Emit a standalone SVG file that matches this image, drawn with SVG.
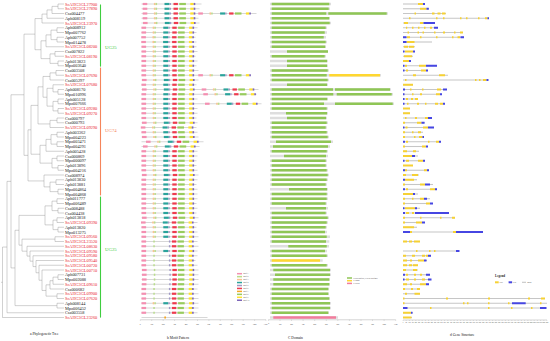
<svg xmlns="http://www.w3.org/2000/svg" width="550" height="341" viewBox="0 0 550 341">
<style>
text{font-family:"Liberation Serif","Times New Roman",serif}
.t{font-size:4.3px;fill:#1a1a1a}
.r{fill:#e8252d}
.tr{fill:none;stroke:#8c8c8c;stroke-width:.4}
.ml{stroke:#cdcdcd;stroke-width:.8}
.dl{stroke:#dedede;stroke-width:2.6}
.dg{stroke:#8fc655;stroke-width:2.6}
.dy{stroke:#ffd730;stroke-width:2.6}
.dp{stroke:#f27c9c;stroke-width:2.6}
.gl{stroke:#c6c6c6;stroke-width:1.1}
.gc{stroke:#f6d134;stroke-width:2}
.gu{stroke:#4646e2;stroke-width:2}
.ax{fill:none;stroke:#555;stroke-width:.25}
.al{font-size:1.8px;fill:#444;text-anchor:middle}
.ga{font-size:1.1px;fill:#444;text-anchor:middle}
.cap{font-size:3.6px;fill:#111}
.lg{font-size:1.7px;fill:#333}
.ug{font-size:4.8px}
</style>
<defs>
<g id="mA" stroke-width="2.2">
<path stroke="#f48fb1" d="M0 0h4.6"/><path stroke="#f9c48f" d="M11.2 0h1.6"/><path stroke="#b9dd8c" d="M12.9 0h1.5"/><path stroke="#2aa39b" d="M21.8 0h5"/><path stroke="#a09ac6" d="M26.9 0h1.4"/><path stroke="#ee3b4e" d="M30.8 0h4.4"/><path stroke="#98cc5e" d="M36.6 0h6.6"/><path stroke="#ffe12e" d="M47.6 0h3.4"/><path stroke="#7d66b8" d="M51 0h1.6"/>
</g>
<g id="mB" stroke-width="2.2">
<path stroke="#f48fb1" d="M0 0h4.6"/><path stroke="#b9dd8c" d="M11.8 0h1.5"/><path stroke="#a09ac6" d="M27.4 0h1.4"/><path stroke="#ee3b4e" d="M30.4 0h4.4"/><path stroke="#98cc5e" d="M36 0h6.4"/><path stroke="#ffe12e" d="M47.2 0h3.4"/><path stroke="#7d66b8" d="M50.6 0h1.6"/>
</g>
</defs>
<rect width="550" height="341" fill="#fff"/>
<g id="connectors">
<path class="tr" d="M64 4H58V8.75H64M58 6.38H52V13.5H64M52 9.94H47V18.25H64M47 14.09H42V23H64M64 27.75H57V32.5H64M64 37.25H57V42H64M57 30.13H51V39.63H57M51 34.88H46V46.75H64M64 51.5H55V56.25H64M64 61H58V65.75H64M55 53.88H50V63.38H58M46 40.81H41V58.63H50M42 18.55H35V49.72H41"/>
<path class="tr" d="M64 70.5H56V75.25H64M56 72.88H50V80H64M64 89.5H58V94.25H64M64 84.75H53V91.88H58M64 99H58V103.75H64M64 108.5H58V113.25H64M58 101.38H53V110.88H58M53 88.31H47V106.13H53M50 76.44H43V97.22H47M64 118H57V122.75H64M57 120.38H50V127.5H64M43 86.83H38V123.94H50M64 132.25H57V137H64M64 141.75H57V146.5H64M57 134.63H51V144.13H57M51 139.38H46V151.25H64M64 156H57V160.75H64M64 165.5H58V170.25H64M57 158.38H52V167.88H58M46 145.31H40V163.13H52M38 105.38H31V154.22H40M64 179.75H56V184.5H64M64 189.25H58V194H64M56 182.13H50V191.63H58M64 175H44V186.88H50M31 129.8H28V180.94H44M35 34.13H24V155.37H28"/>
<path class="tr" d="M64 198.75H57V203.5H64M64 208.25H58V213H64M57 201.13H52V210.63H58M64 217.75H57V222.5H64M64 227.25H58V232H64M57 220.13H53V229.63H58M52 205.88H45V224.88H53M64 274.75H58V279.5H64M58 277.13H53V284.25H64M53 280.69H50V289H64M64 293.75H57V298.5H64M50 284.84H46V296.13H57M64 270H42V290.48H46M64 265.25H39V280.24H42M64 260.5H36V272.75H39M64 255.75H33V266.6H36M64 251H30V261.2H33M64 246.25H27V256.1H30M64 236.75H55V241.5H64M55 239.13H22V251.2H27M45 215.38H19V245.16H22M64 303.25H57V308H64M19 230.27H15V305.63H57M24 94.75H11V267.95H15M11 181.35H7V312.75H64M7 247.05H2.5V317.5H64M2.5 282.3H1"/>
</g>
<g id="groups">
<path stroke="#3fcd3f" stroke-width="1.1" d="M100.5 4.5V66.6"/>
<path stroke="#f5855a" stroke-width="1.1" d="M100.5 67.6V195.4"/>
<path stroke="#3fcd3f" stroke-width="1.1" d="M100.5 196.6V317.6"/>
<text class="ug" x="105" y="49" fill="#3fcd3f">UG25</text>
<text class="ug" x="105" y="132" fill="#f5855a">UG74</text>
<text class="ug" x="105" y="251" fill="#3fcd3f">UG25</text>
</g>
<g id="rows">
<g id="r1" transform="translate(0 4)"><text class="t r" x="65" y="1.5">ScAHG3GL27900</text><path class="ml" d="M141.5 0h60"/><use href="#mA" x="142.7"/><path class="dl" d="M270 0h61"/><path class="dg" d="M271.7 0h57.6"/><path class="gl" d="M403 0h22"/><path class="gc" d="M418 0h5"/><path class="gu" d="M423 0h2"/></g>
<g id="r2" transform="translate(0 8.75)"><text class="t r" x="65" y="1.5">ScAHG3GL27890</text><path class="ml" d="M141.5 0h58"/><use href="#mA" x="142.7"/><path class="dl" d="M270 0h60"/><path class="dg" d="M271.7 0h57"/><path class="gl" d="M403 0h26"/><path class="gc" d="M420 0h6.5"/><path class="gu" d="M426.5 0h2.3"/></g>
<g id="r3" transform="translate(0 13.5)"><text class="t" x="65" y="1.5">Csa004477</text><path class="ml" d="M141.5 0h115"/><use href="#mA" x="142.7"/><use href="#mA" x="198.3"/><path class="dl" d="M270 0h118"/><path class="dg" d="M271.7 0h54.6M328.3 0h58.4"/><path class="gl" d="M403 0h43"/><path class="gc" d="M414.5 0h1.5M432 0h2.5M437.5 0h3M442 0h3.5"/></g>
<g id="r4" transform="translate(0 18.25)"><text class="t" x="65" y="1.5">Aph008119</text><path class="ml" d="M141.5 0h57"/><use href="#mA" x="142.7"/><path class="dl" d="M270 0h60"/><path class="dg" d="M271.7 0h57.5"/><path class="gl" d="M403 0h86"/><path class="gc" d="M409 0h1.5M436 0h1.5M443 0h1.5M460 0h1.5M466 0h1.5M478 0h1.5M485 0h2.5"/><path class="gu" d="M487.5 0h1.5"/></g>
<g id="r5" transform="translate(0 23)"><text class="t r" x="65" y="1.5">ScAHG3GL23970</text><path class="ml" d="M141.5 0h58"/><use href="#mA" x="143"/><path class="dl" d="M270 0h61"/><path class="dg" d="M271.7 0h58"/><path class="gl" d="M403 0h32"/><path class="gc" d="M404 0h4M420 0h3.5"/><path class="gu" d="M423.5 0h11.5"/></g>
<g id="r6" transform="translate(0 27.75)"><text class="t" x="65" y="1.5">Aph008912</text><path class="ml" d="M141.5 0h56"/><use href="#mA" x="141.5"/><path class="dl" d="M270 0h57"/><path class="dg" d="M271.7 0h54"/><path class="gl" d="M403 0h35"/><path class="gc" d="M406 0h1.2M412 0h1.5M418 0h1.5M424 0h1.5M430 0h2"/><path class="gu" d="M434 0h4"/></g>
<g id="r7" transform="translate(0 32.5)"><text class="t" x="65" y="1.5">Mpo007762</text><path class="ml" d="M141.5 0h55"/><use href="#mA" x="141.5"/><path class="dl" d="M270 0h57"/><path class="dg" d="M271.7 0h53"/><path class="gl" d="M403 0h60"/><path class="gc" d="M407.5 0h1.5M417.5 0h1.5M422.5 0h1.5M434 0h1.5M443 0h2M454 0h1.5M460 0h3"/></g>
<g id="r8" transform="translate(0 37.25)"><text class="t" x="65" y="1.5">Aph007752</text><path class="ml" d="M141.5 0h54"/><use href="#mA" x="141.3"/><path class="dl" d="M270 0h56"/><path class="dg" d="M271.7 0h52"/><path class="gl" d="M403 0h61"/><path class="gc" d="M407 0h3M420 0h1.5M436 0h1.5M452 0h1.5M457.5 0h2.5"/><path class="gu" d="M403 0h3.5M460.5 0h3.5"/></g>
<g id="r9" transform="translate(0 42)"><text class="t" x="65" y="1.5">Mpo014478</text><path class="ml" d="M141.5 0h55"/><use href="#mA" x="141.3"/><path class="dl" d="M270 0h57"/><path class="dg" d="M271.7 0h54"/><path class="gl" d="M403 0h29"/><path class="gc" d="M406.5 0h8"/><path class="gu" d="M403 0h3.5"/></g>
<g id="r10" transform="translate(0 46.75)"><text class="t r" x="65" y="1.5">ScAHG3GL08200</text><path class="ml" d="M141.5 0h55"/><use href="#mA" x="141.5"/><path class="dl" d="M270 0h56"/><path class="dg" d="M271.7 0h53.5"/><path class="gl" d="M403 0h12"/><path class="gc" d="M404 0h4M409 0h5"/></g>
<g id="r11" transform="translate(0 51.5)"><text class="t" x="65" y="1.5">Csa007822</text><path class="ml" d="M141.5 0h56"/><use href="#mA" x="141.5"/><path class="dl" d="M270 0h58"/><path class="dg" d="M287 0h41"/><path class="gl" d="M403 0h12"/><path class="gc" d="M405 0h8"/><path class="gu" d="M403 0h1.5M413 0h2"/></g>
<g id="r12" transform="translate(0 56.25)"><text class="t r" x="65" y="1.5">ScAHG3GL08190</text><path class="ml" d="M141.5 0h54"/><use href="#mA" x="141.5"/><path class="dl" d="M270 0h56"/><path class="dg" d="M271.7 0h53"/><path class="gl" d="M403 0h10"/><path class="gc" d="M404 0h8"/></g>
<g id="r13" transform="translate(0 61)"><text class="t" x="65" y="1.5">Aph013823</text><path class="ml" d="M141.5 0h56"/><use href="#mA" x="141.5"/><path class="dl" d="M270 0h58"/><path class="dg" d="M287 0h40"/><path class="gl" d="M403 0h8"/><path class="gc" d="M403 0h6"/><path class="gu" d="M409 0h2"/></g>
<g id="r14" transform="translate(0 65.75)"><text class="t" x="65" y="1.5">Mpo003640</text><path class="ml" d="M141.5 0h55"/><use href="#mA" x="141.5"/><path class="dl" d="M270 0h58"/><path class="dg" d="M287 0h40"/><path class="gl" d="M403 0h34"/><path class="gc" d="M405 0h2M419 0h7"/><path class="gu" d="M403 0h1.5M426 0h11"/></g>
<g id="r15" transform="translate(0 70.5)"><text class="t" x="65" y="1.5">Csa003508</text><path class="ml" d="M141.5 0h57"/><use href="#mA" x="141.5"/><path class="dl" d="M270 0h59"/><path class="dg" d="M271.7 0h56"/><path class="gl" d="M403 0h25"/><path class="gc" d="M406 0h2M421 0h5"/><path class="gu" d="M403 0h1.5M426 0h2"/></g>
<g id="r16" transform="translate(0 75.25)"><text class="t r" x="65" y="1.5">ScAHG3GL07690</text><path class="ml" d="M141.5 0h108"/><use href="#mA" x="141.5"/><use href="#mA" x="198.3"/><path class="dl" d="M270 0h111"/><path class="dg" d="M271.7 0h55"/><path class="dy" d="M329.3 0h50.7"/><path class="gl" d="M403 0h45"/><path class="gc" d="M413 0h3M439 0h6"/></g>
<g id="r17" transform="translate(0 80)"><text class="t" x="65" y="1.5">Csa005297</text><path class="ml" d="M141.5 0h57"/><use href="#mA" x="142"/><path class="dl" d="M270 0h59"/><path class="dg" d="M271.7 0h56"/><path class="gl" d="M403 0h85"/><path class="gc" d="M405 0h1.5M475 0h1.5M479 0h1.5M483 0h3.5"/><path class="gu" d="M486.5 0h2"/></g>
<g id="r18" transform="translate(0 84.75)"><text class="t r" x="65" y="1.5">ScAHG3GL07680</text><path class="ml" d="M141.5 0h55"/><use href="#mA" x="141.5"/><path class="dl" d="M270 0h58"/><path class="dg" d="M287 0h40"/><path class="gl" d="M403 0h10"/><path class="gc" d="M403 0h10"/></g>
<g id="r19" transform="translate(0 89.5)"><text class="t" x="65" y="1.5">Aph008170</text><path class="ml" d="M141.5 0h117"/><use href="#mA" x="142"/><use href="#mA" x="201.7"/><path class="dl" d="M270 0h121"/><path class="dg" d="M271.7 0h61.3M335 0h55"/><path class="gl" d="M403 0h44"/><path class="gc" d="M410 0h1.5M422 0h1.5M437 0h4"/><path class="gu" d="M403 0h2M443 0h4"/></g>
<g id="r20" transform="translate(0 94.25)"><text class="t" x="65" y="1.5">Mpo010996</text><path class="ml" d="M141.5 0h115"/><use href="#mA" x="141.5"/><use href="#mA" x="203.3"/><path class="dl" d="M270 0h123"/><path class="dg" d="M271.7 0h61.6M336.7 0h55"/><path class="gl" d="M403 0h39"/><path class="gc" d="M412 0h1.5M420 0h2M436 0h4"/><path class="gu" d="M403 0h1.5M440 0h2"/></g>
<g id="r21" transform="translate(0 99)"><text class="t" x="65" y="1.5">Aph005128</text><path class="ml" d="M141.5 0h56"/><use href="#mA" x="141.5"/><path class="dl" d="M270 0h58"/><path class="dg" d="M271.7 0h55.5"/><path class="gl" d="M403 0h15"/><path class="gc" d="M406 0h2M411 0h2M415 0h3"/><path class="gu" d="M403 0h1.5"/></g>
<g id="r22" transform="translate(0 103.75)"><text class="t" x="65" y="1.5">Mpo007666</text><path class="ml" d="M141.5 0h120"/><use href="#mA" x="141.5"/><use href="#mA" x="205"/><path class="dl" d="M270 0h124"/><path class="dg" d="M271.7 0h52.3M335 0h57.7"/><path class="gl" d="M403 0h42"/><path class="gc" d="M407 0h1.5M417 0h2M425 0h1.5M435 0h3M440 0h3"/><path class="gu" d="M403 0h1.5M443 0h2"/></g>
<g id="r23" transform="translate(0 108.5)"><text class="t r" x="65" y="1.5">ScAHG3GL09280</text><path class="ml" d="M141.5 0h56"/><use href="#mA" x="141.5"/><path class="dl" d="M270 0h58"/><path class="dg" d="M271.7 0h55"/><path class="gl" d="M403 0h7"/><path class="gc" d="M403 0h7"/></g>
<g id="r24" transform="translate(0 113.25)"><text class="t r" x="65" y="1.5">ScAHG3GL09270</text><path class="ml" d="M141.5 0h56"/><use href="#mA" x="141.5"/><path class="dl" d="M270 0h58"/><path class="dg" d="M286 0h41"/><path class="gl" d="M403 0h7"/><path class="gc" d="M403 0h7"/></g>
<g id="r25" transform="translate(0 118)"><text class="t" x="65" y="1.5">Csa000797</text><path class="ml" d="M141.5 0h55"/><use href="#mA" x="141.5"/><path class="dl" d="M270 0h57"/><path class="dg" d="M287 0h39"/><path class="gl" d="M403 0h29"/><path class="gc" d="M405 0h1.5M415 0h2M425 0h3"/><path class="gu" d="M428 0h4"/></g>
<g id="r26" transform="translate(0 122.75)"><text class="t" x="65" y="1.5">Csa000793</text><path class="ml" d="M141.5 0h56"/><use href="#mA" x="142"/><path class="dl" d="M270 0h58"/><path class="dg" d="M271.7 0h55"/><path class="gl" d="M403 0h22"/><path class="gc" d="M403 0h2M417 0h4.5"/><path class="gu" d="M421.5 0h3"/></g>
<g id="r27" transform="translate(0 127.5)"><text class="t r" x="65" y="1.5">ScAHG3GL09290</text><path class="ml" d="M141.5 0h55"/><use href="#mA" x="140.8"/><path class="dl" d="M270 0h57"/><path class="dg" d="M271.7 0h54"/><path class="gl" d="M403 0h31"/><path class="gc" d="M405.5 0h2M423 0h5"/><path class="gu" d="M403 0h1.5M428 0h6"/></g>
<g id="r28" transform="translate(0 132.25)"><text class="t" x="65" y="1.5">Aph003362</text><path class="ml" d="M141.5 0h56"/><use href="#mA" x="141.5"/><path class="dl" d="M270 0h58"/><path class="dg" d="M271.7 0h55"/><path class="gl" d="M403 0h20"/><path class="gc" d="M403 0h2M412 0h1.5M418 0h3"/></g>
<g id="r29" transform="translate(0 137)"><text class="t" x="65" y="1.5">Mpo004223</text><path class="ml" d="M141.5 0h57"/><use href="#mA" x="142"/><path class="dl" d="M270 0h59"/><path class="dg" d="M271.7 0h56"/><path class="gl" d="M403 0h21"/><path class="gc" d="M403 0h2M414 0h1.5M419 0h3.5"/><path class="gu" d="M422.5 0h1.5"/></g>
<g id="r30" transform="translate(0 141.75)"><text class="t" x="65" y="1.5">Mpo003471</text><path class="ml" d="M141.5 0h62"/><use href="#mA" x="146"/><path class="dl" d="M270 0h63"/><path class="dg" d="M276 0h55"/><path class="gl" d="M403 0h38"/><path class="gc" d="M406 0h2M428 0h1.5M436 0h3"/><path class="gu" d="M403 0h2M439 0h2"/></g>
<g id="r31" transform="translate(0 146.5)"><text class="t" x="65" y="1.5">Mpo004291</text><path class="ml" d="M141.5 0h58"/><use href="#mA" x="143"/><path class="dl" d="M270 0h60"/><path class="dg" d="M273 0h55"/><path class="gl" d="M403 0h25"/><path class="gc" d="M403 0h2M422 0h4"/><path class="gu" d="M426 0h2"/></g>
<g id="r32" transform="translate(0 151.25)"><text class="t" x="65" y="1.5">Aph005428</text><path class="ml" d="M141.5 0h56"/><use href="#mA" x="141.5"/><path class="dl" d="M270 0h58"/><path class="dg" d="M271.7 0h55"/><path class="gl" d="M403 0h16"/><path class="gc" d="M403 0h4M413 0h3"/></g>
<g id="r33" transform="translate(0 156)"><text class="t" x="65" y="1.5">Csa000869</text><path class="ml" d="M141.5 0h56"/><use href="#mA" x="141.5"/><path class="dl" d="M270 0h58"/><path class="dg" d="M284 0h42"/><path class="gl" d="M403 0h15"/><path class="gc" d="M403 0h9"/><path class="gu" d="M412 0h3"/></g>
<g id="r34" transform="translate(0 160.75)"><text class="t" x="65" y="1.5">Mpo000097</text><path class="ml" d="M141.5 0h55"/><use href="#mA" x="141.5"/><path class="dl" d="M270 0h57"/><path class="dg" d="M271.7 0h54"/><path class="gl" d="M403 0h22"/><path class="gc" d="M406 0h3M418 0h5"/><path class="gu" d="M403 0h1.5M423 0h2"/></g>
<g id="r35" transform="translate(0 165.5)"><text class="t" x="65" y="1.5">Aph013896</text><path class="ml" d="M141.5 0h55"/><use href="#mA" x="141.5"/><path class="dl" d="M270 0h57"/><path class="dg" d="M271.7 0h54"/><path class="gl" d="M403 0h10"/><path class="gc" d="M403 0h10"/></g>
<g id="r36" transform="translate(0 170.25)"><text class="t" x="65" y="1.5">Mpo004216</text><path class="ml" d="M141.5 0h56"/><use href="#mA" x="141.5"/><path class="dl" d="M270 0h58"/><path class="dg" d="M271.7 0h55"/><path class="gl" d="M403 0h26"/><path class="gc" d="M405 0h2M424 0h3"/><path class="gu" d="M403 0h2M427 0h2"/></g>
<g id="r37" transform="translate(0 175)"><text class="t" x="65" y="1.5">Csa008974</text><path class="ml" d="M141.5 0h57"/><use href="#mA" x="142"/><path class="dl" d="M270 0h59"/><path class="dg" d="M271.7 0h56"/><path class="gl" d="M403 0h16"/><path class="gc" d="M403 0h3M412 0h6"/></g>
<g id="r38" transform="translate(0 179.75)"><text class="t" x="65" y="1.5">Aph013830</text><path class="ml" d="M141.5 0h56"/><use href="#mA" x="141.5"/><path class="dl" d="M270 0h58"/><path class="dg" d="M271.7 0h55"/><path class="gl" d="M403 0h14"/><path class="gc" d="M405 0h9"/><path class="gu" d="M403 0h2"/></g>
<g id="r39" transform="translate(0 184.5)"><text class="t" x="65" y="1.5">Aph013881</text><path class="ml" d="M141.5 0h55"/><use href="#mA" x="141.5"/><path class="dl" d="M270 0h57"/><path class="dg" d="M271.7 0h54"/><path class="gl" d="M403 0h30"/><path class="gc" d="M403 0h2M420 0h5"/><path class="gu" d="M425 0h5"/></g>
<g id="r40" transform="translate(0 189.25)"><text class="t" x="65" y="1.5">Mpo004864</text><path class="ml" d="M141.5 0h56"/><use href="#mA" x="141.5"/><path class="dl" d="M270 0h58"/><path class="dg" d="M289 0h38"/><path class="gl" d="M403 0h34"/><path class="gc" d="M406 0h2M430 0h5"/><path class="gu" d="M403 0h2M435 0h2"/></g>
<g id="r41" transform="translate(0 194)"><text class="t" x="65" y="1.5">Mpo004868</text><path class="ml" d="M141.5 0h56"/><use href="#mA" x="141.5"/><path class="dl" d="M270 0h58"/><path class="dg" d="M271.7 0h55"/><path class="gl" d="M403 0h15"/><path class="gc" d="M403 0h10"/><path class="gu" d="M413 0h2"/></g>
<g id="r42" transform="translate(0 198.75)"><text class="t" x="65" y="1.5">Aph011777</text><path class="ml" d="M141.5 0h56"/><use href="#mA" x="141.5"/><path class="dl" d="M270 0h58"/><path class="dg" d="M271.7 0h55"/><path class="gl" d="M403 0h27"/><path class="gc" d="M403 0h2M412 0h1.5M420 0h4"/><path class="gu" d="M424 0h3"/></g>
<g id="r43" transform="translate(0 203.5)"><text class="t" x="65" y="1.5">Mpo006489</text><path class="ml" d="M141.5 0h55"/><use href="#mA" x="141.5"/><path class="dl" d="M270 0h57"/><path class="dg" d="M271.7 0h54"/><path class="gl" d="M403 0h30"/><path class="gc" d="M403 0h2M426 0h4"/><path class="gu" d="M430 0h3"/></g>
<g id="r44" transform="translate(0 208.25)"><text class="t" x="65" y="1.5">Csa008488</text><path class="ml" d="M141.5 0h56"/><use href="#mA" x="141.5"/><path class="dl" d="M270 0h58"/><path class="dg" d="M286 0h40"/><path class="gl" d="M403 0h17"/><path class="gc" d="M405 0h10"/><path class="gu" d="M403 0h1.5M415 0h2"/></g>
<g id="r45" transform="translate(0 213)"><text class="t" x="65" y="1.5">Csa004438</text><path class="ml" d="M141.5 0h55"/><use href="#mA" x="141.5"/><path class="dl" d="M270 0h57"/><path class="dg" d="M271.7 0h54"/><path class="gl" d="M403 0h46"/><path class="gc" d="M406 0h3M412 0h2"/><path class="gu" d="M403 0h2M415 0h34"/></g>
<g id="r46" transform="translate(0 217.75)"><text class="t" x="65" y="1.5">Aph013818</text><path class="ml" d="M141.5 0h57"/><use href="#mA" x="142"/><path class="dl" d="M270 0h59"/><path class="dg" d="M271.7 0h56"/><path class="gl" d="M403 0h52"/><path class="gc" d="M403 0h2M420 0h1.5M440 0h1.5M452 0h3"/></g>
<g id="r47" transform="translate(0 222.5)"><text class="t r" x="65" y="1.5">ScAHG3GL09390</text><path class="ml" d="M141.5 0h56"/><use href="#mA" x="141"/><path class="dl" d="M270 0h58"/><path class="dg" d="M271.7 0h55"/><path class="gl" d="M403 0h22"/><path class="gc" d="M403 0h2M416 0h6"/><path class="gu" d="M422 0h3"/></g>
<g id="r48" transform="translate(0 227.25)"><text class="t" x="65" y="1.5">Aph013820</text><path class="ml" d="M141.5 0h55"/><use href="#mA" x="141.5"/><path class="dl" d="M270 0h57"/><path class="dg" d="M271.7 0h54"/><path class="gl" d="M403 0h14"/><path class="gc" d="M403 0h11"/></g>
<g id="r49" transform="translate(0 232)"><text class="t" x="65" y="1.5">Mpo013275</text><path class="ml" d="M141.5 0h56"/><use href="#mA" x="141.5"/><path class="dl" d="M270 0h57"/><path class="dg" d="M271.7 0h53.3"/><path class="gl" d="M403 0h80"/><path class="gc" d="M410 0h2M453 0h3"/><path class="gu" d="M403 0h7M456 0h27"/></g>
<g id="r50" transform="translate(0 236.75)"><text class="t r" x="65" y="1.5">ScAHG3GL09560</text><path class="ml" d="M141.5 0h57"/><use href="#mA" x="141.5"/><path class="dl" d="M270 0h60"/><path class="dg" d="M271.7 0h55"/></g>
<g id="r51" transform="translate(0 241.5)"><text class="t r" x="65" y="1.5">ScAHG3GL23520</text><path class="ml" d="M141.5 0h56"/><use href="#mB" x="141.5"/><path class="dl" d="M270 0h59.3"/><path class="dg" d="M271.7 0h54.3"/><path class="gl" d="M403 0h17"/><path class="gc" d="M403 0h4M409 0h3M414 0h6"/></g>
<g id="r52" transform="translate(0 246.25)"><text class="t r" x="65" y="1.5">ScAHG3GL08630</text><path class="ml" d="M141.5 0h57"/><use href="#mB" x="141.5"/><path class="dl" d="M270 0h59"/><path class="dg" d="M288.3 0h38.4"/></g>
<g id="r53" transform="translate(0 251)"><text class="t r" x="65" y="1.5">ScAHG3GL09590</text><path class="ml" d="M141.5 0h56"/><use href="#mA" x="141.5"/><path class="dl" d="M270 0h57"/><path class="dg" d="M271.7 0h53.3"/><path class="gl" d="M403 0h56"/><path class="gc" d="M416 0h1.5M429 0h1.5M434 0h1.5"/><path class="gu" d="M456 0h3.5"/></g>
<g id="r54" transform="translate(0 255.75)"><text class="t r" x="65" y="1.5">ScAHG3GL09580</text><path class="ml" d="M141.5 0h56"/><use href="#mB" x="141.5"/><path class="dl" d="M270 0h58"/><path class="dg" d="M271.7 0h55"/><path class="gl" d="M403 0h28"/><path class="gc" d="M403 0h3M412 0h3M422 0h3M426 0h2"/><path class="gu" d="M428 0h3"/></g>
<g id="r55" transform="translate(0 260.5)"><text class="t r" x="65" y="1.5">ScAHG3GL09540</text><path class="ml" d="M141.5 0h54"/><use href="#mB" x="141.5"/><path class="dl" d="M270 0h52.7"/><path class="dy" d="M271.7 0h48.3"/><path class="gl" d="M403 0h24"/><path class="gc" d="M403 0h4M410 0h2M418 0h6"/><path class="gu" d="M424 0h2.5"/></g>
<g id="r56" transform="translate(0 265.25)"><text class="t r" x="65" y="1.5">ScAHG3GL00720</text><path class="ml" d="M141.5 0h56"/><use href="#mB" x="141.5"/><path class="dl" d="M270 0h58"/><path class="dg" d="M271.7 0h55"/><path class="gl" d="M403 0h15"/><path class="gc" d="M403 0h4M409 0h3M413 0h5"/></g>
<g id="r57" transform="translate(0 270)"><text class="t r" x="65" y="1.5">ScAHG3GL00710</text><path class="ml" d="M141.5 0h57"/><use href="#mB" x="142"/><path class="dl" d="M270 0h61"/><path class="dg" d="M273.3 0h56.7"/><path class="gl" d="M403 0h15"/><path class="gc" d="M403 0h3M413 0h4"/></g>
<g id="r58" transform="translate(0 274.75)"><text class="t" x="65" y="1.5">Aph007731</text><path class="ml" d="M141.5 0h57"/><use href="#mB" x="142"/><path class="dl" d="M270 0h61"/><path class="dg" d="M275 0h55"/><path class="gl" d="M403 0h27"/><path class="gc" d="M406 0h2M414 0h2M420 0h2"/><path class="gu" d="M403 0h2M426 0h4"/></g>
<g id="r59" transform="translate(0 279.5)"><text class="t" x="65" y="1.5">Mpo002088</text><path class="ml" d="M141.5 0h57"/><use href="#mB" x="142"/><path class="dl" d="M270 0h60"/><path class="dg" d="M273.3 0h56"/><path class="gl" d="M403 0h28"/><path class="gc" d="M406 0h3M414 0h2M422 0h3"/><path class="gu" d="M403 0h1.5M428 0h3.5"/></g>
<g id="r60" transform="translate(0 284.25)"><text class="t r" x="65" y="1.5">ScAHG3GL09610</text><path class="ml" d="M141.5 0h57"/><use href="#mB" x="141.8"/><path class="dl" d="M270 0h60"/><path class="dg" d="M273.3 0h56"/><path class="gl" d="M403 0h26"/><path class="gc" d="M403 0h4M410 0h2M420 0h6"/><path class="gu" d="M426 0h3"/></g>
<g id="r61" transform="translate(0 289)"><text class="t" x="65" y="1.5">Csa000682</text><path class="ml" d="M141.5 0h56"/><use href="#mB" x="141.5"/><path class="dl" d="M270 0h59"/><path class="dg" d="M271.7 0h56.6"/><path class="gl" d="M403 0h17"/><path class="gc" d="M403 0h2M411 0h2M417 0h3"/></g>
<g id="r62" transform="translate(0 293.75)"><text class="t r" x="65" y="1.5">ScAHG3GL09900</text><path class="ml" d="M141.5 0h57"/><use href="#mB" x="141.5"/><path class="dl" d="M270 0h59"/><path class="dg" d="M271.7 0h56.6"/><path class="gl" d="M403 0h17"/><path class="gc" d="M405 0h2M414.5 0h5.5"/></g>
<g id="r63" transform="translate(0 298.5)"><text class="t r" x="65" y="1.5">ScAHG3GL07620</text><path class="ml" d="M141.5 0h57"/><use href="#mB" x="141.5"/><path class="dl" d="M270 0h60"/><path class="dg" d="M271.7 0h57.6"/><path class="gl" d="M403 0h142"/><path class="gc" d="M403 0h1.5M446 0h2M488 0h2M528 0h2M541 0h4"/></g>
<g id="r64" transform="translate(0 303.25)"><text class="t" x="65" y="1.5">Aph008144</text><path class="ml" d="M141.5 0h57"/><use href="#mA" x="141.5"/><path class="dl" d="M270 0h61"/><path class="dg" d="M271.7 0h58.3"/><path class="gl" d="M403 0h144"/><path class="gc" d="M403 0h1.5M463 0h1.5M467 0h1.5M488 0h1.5M508 0h1.5M540 0h1.5"/><path class="gu" d="M512 0h13.7"/></g>
<g id="r65" transform="translate(0 308)"><text class="t" x="65" y="1.5">Mpo006452</text><path class="ml" d="M141.5 0h57"/><use href="#mB" x="141.5"/><path class="dl" d="M270 0h61"/><path class="dg" d="M271.7 0h58.3"/><path class="gl" d="M403 0h143"/><path class="gc" d="M430 0h1.5M488 0h1.5M511 0h1.5M531 0h1.5"/><path class="gu" d="M403 0h4.5M540 0h6.5"/></g>
<g id="r66" transform="translate(0 312.75)"><text class="t" x="65" y="1.5">Csa003558</text><path class="ml" d="M141.5 0h56"/><use href="#mB" x="141.5"/><path class="dl" d="M270 0h59"/><path class="dg" d="M271.7 0h56.6"/><path class="gl" d="M403 0h10"/><path class="gc" d="M403 0h8"/><path class="gu" d="M411 0h1.5"/></g>
<g id="r67" transform="translate(0 317.5)"><text class="t r" x="65" y="1.5">ScAHG3GL23260</text><path class="ml" d="M141.5 0h66"/><path stroke="#f5a623" stroke-width="2.2" d="M164.3 0h1.7"/><path class="dl" d="M270 0h68"/><path class="dp" d="M273.3 0h62.7"/><path class="gl" d="M403 0h9"/><path class="gc" d="M403 0h8.5"/></g>
</g>
<g id="axes">
<path class="ax" d="M140.3 319.8H266M140.3 319.8v.8M151.7 319.8v.8M163.2 319.8v.8M174.6 319.8v.8M186 319.8v.8M197.5 319.8v.8M208.9 319.8v.8M220.3 319.8v.8M231.7 319.8v.8M243.2 319.8v.8M254.6 319.8v.8M266 319.8v.8"/>
<text class="al" x="140.3" y="324.6">0</text>
<text class="al" x="151.7" y="324.6">100</text><text class="al" x="163.2" y="324.6">200</text><text class="al" x="174.6" y="324.6">300</text><text class="al" x="186" y="324.6">400</text><text class="al" x="197.5" y="324.6">500</text><text class="al" x="208.9" y="324.6">600</text><text class="al" x="220.3" y="324.6">700</text><text class="al" x="231.7" y="324.6">800</text><text class="al" x="243.2" y="324.6">900</text><text class="al" x="254.6" y="324.6">1000</text><text class="al" x="265.6" y="324.6">1100</text>
<path class="ax" d="M268.4 319.8H395.7M268.4 319.8v.8M280 319.8v.8M291.5 319.8v.8M303.1 319.8v.8M314.7 319.8v.8M326.3 319.8v.8M337.8 319.8v.8M349.4 319.8v.8M361 319.8v.8M372.5 319.8v.8M384.1 319.8v.8M395.7 319.8v.8"/>
<text class="al" x="268.6" y="323.6">0</text><text class="al" x="280" y="324.6">100</text><text class="al" x="291.5" y="324.6">200</text><text class="al" x="303.1" y="324.6">300</text><text class="al" x="314.7" y="324.6">400</text><text class="al" x="326.3" y="324.6">500</text><text class="al" x="337.8" y="324.6">600</text><text class="al" x="349.4" y="324.6">700</text><text class="al" x="361" y="324.6">800</text><text class="al" x="372.5" y="324.6">900</text><text class="al" x="384.1" y="324.6">1000</text><text class="al" x="395.7" y="324.6">1100</text>
<path class="ax" d="M403 320H547M403 320v.6M406.2 320v.6M409.4 320v.6M412.6 320v.6M415.8 320v.6M419 320v.6M422.2 320v.6M425.4 320v.6M428.6 320v.6M431.8 320v.6M435 320v.6M438.2 320v.6M441.4 320v.6M444.6 320v.6M447.8 320v.6M451 320v.6M454.2 320v.6M457.4 320v.6M460.6 320v.6M463.8 320v.6M467 320v.6M470.2 320v.6M473.4 320v.6M476.6 320v.6M479.8 320v.6M483 320v.6M486.2 320v.6M489.4 320v.6M492.6 320v.6M495.8 320v.6M499 320v.6M502.2 320v.6M505.4 320v.6M508.6 320v.6M511.8 320v.6M515 320v.6M518.2 320v.6M521.4 320v.6M524.6 320v.6M527.8 320v.6M531 320v.6M534.2 320v.6M537.4 320v.6M540.6 320v.6M543.8 320v.6M547 320v.6"/>
<g class="ga"><text x="403" y="322.6">0</text><text x="406.2" y="322.6">500</text><text x="409.4" y="322.6">1000</text><text x="412.6" y="322.6">1500</text><text x="415.8" y="322.6">2000</text><text x="419" y="322.6">2500</text><text x="422.2" y="322.6">3000</text><text x="425.4" y="322.6">3500</text><text x="428.6" y="322.6">4000</text><text x="431.8" y="322.6">4500</text><text x="435" y="322.6">5000</text><text x="438.2" y="322.6">5500</text><text x="441.4" y="322.6">6000</text><text x="444.6" y="322.6">6500</text><text x="447.8" y="322.6">7000</text><text x="451" y="322.6">7500</text><text x="454.2" y="322.6">8000</text><text x="457.4" y="322.6">8500</text><text x="460.6" y="322.6">9000</text><text x="463.8" y="322.6">9500</text><text x="467" y="322.6">10000</text><text x="470.2" y="322.6">10500</text><text x="473.4" y="322.6">11000</text><text x="476.6" y="322.6">11500</text><text x="479.8" y="322.6">12000</text><text x="483" y="322.6">12500</text><text x="486.2" y="322.6">13000</text><text x="489.4" y="322.6">13500</text><text x="492.6" y="322.6">14000</text><text x="495.8" y="322.6">14500</text><text x="499" y="322.6">15000</text><text x="502.2" y="322.6">15500</text><text x="505.4" y="322.6">16000</text><text x="508.6" y="322.6">16500</text><text x="511.8" y="322.6">17000</text><text x="515" y="322.6">17500</text><text x="518.2" y="322.6">18000</text><text x="521.4" y="322.6">18500</text><text x="524.6" y="322.6">19000</text><text x="527.8" y="322.6">19500</text><text x="531" y="322.6">20000</text><text x="534.2" y="322.6">20500</text><text x="537.4" y="322.6">21000</text><text x="540.6" y="322.6">21500</text><text x="543.8" y="322.6">22000</text><text x="547" y="322.6">22500</text></g>
</g>
<g id="motif-legend" stroke-width="1.5">
<path stroke="#f48fb1" d="M237 273.7h5"/><path stroke="#b9dd8c" d="M237 276.65h5"/><path stroke="#f9c48f" d="M237 279.6h5"/><path stroke="#2aa39b" d="M237 282.55h5"/><path stroke="#a09ac6" d="M237 285.5h5"/><path stroke="#ee3b4e" d="M237 288.45h5"/><path stroke="#f5a623" d="M237 291.4h5"/><path stroke="#98cc5e" d="M237 294.35h5"/><path stroke="#ffe12e" d="M237 297.3h5"/><path stroke="#7d66b8" d="M237 300.25h5"/>
<g class="lg"><text x="243.3" y="274.3">Motif 1</text><text x="243.3" y="277.25">Motif 2</text><text x="243.3" y="280.2">Motif 3</text><text x="243.3" y="283.15">Motif 4</text><text x="243.3" y="286.1">Motif 5</text><text x="243.3" y="289.05">Motif 6</text><text x="243.3" y="292">Motif 7</text><text x="243.3" y="294.95">Motif 8</text><text x="243.3" y="297.9">Motif 9</text><text x="243.3" y="300.85">Motif 10</text></g>
</g>
<g id="domain-legend" stroke-width="1.5">
<path stroke="#8fc655" d="M347 278h5"/><path stroke="#ffd730" d="M347 280.7h5"/><path stroke="#f27c9c" d="M347 283.4h5"/>
<g class="lg" style="font-size:1.4px"><text x="353.3" y="278.5">Glycosyltransferase_GTB-type superfamily</text><text x="353.3" y="281.2">PLN02448</text><text x="353.3" y="283.9">PLN03004</text></g>
</g>
<g id="gene-legend">
<text x="495" y="277" style="font-size:3.2px;font-weight:bold;fill:#222">Legend</text>
<path class="gc" d="M495 282.3h3.7"/><text class="lg" x="499.4" y="282.9">CDS</text>
<path class="gu" d="M508.6 282.3h3.5"/><text class="lg" x="512.7" y="282.9">UTR</text>
<path class="gl" d="M522 282.3h4"/><text class="lg" x="527.2" y="282.9">Intron</text>
</g>
<g id="captions">
<text class="cap" x="30" y="334.5">a Phylogenetic Tree</text>
<text class="cap" x="167" y="338.5">b Motif Pattern</text>
<text class="cap" x="288" y="338.5">C Domain</text>
<text class="cap" x="450" y="335.5">d Gene Structure</text>
</g>
</svg>
